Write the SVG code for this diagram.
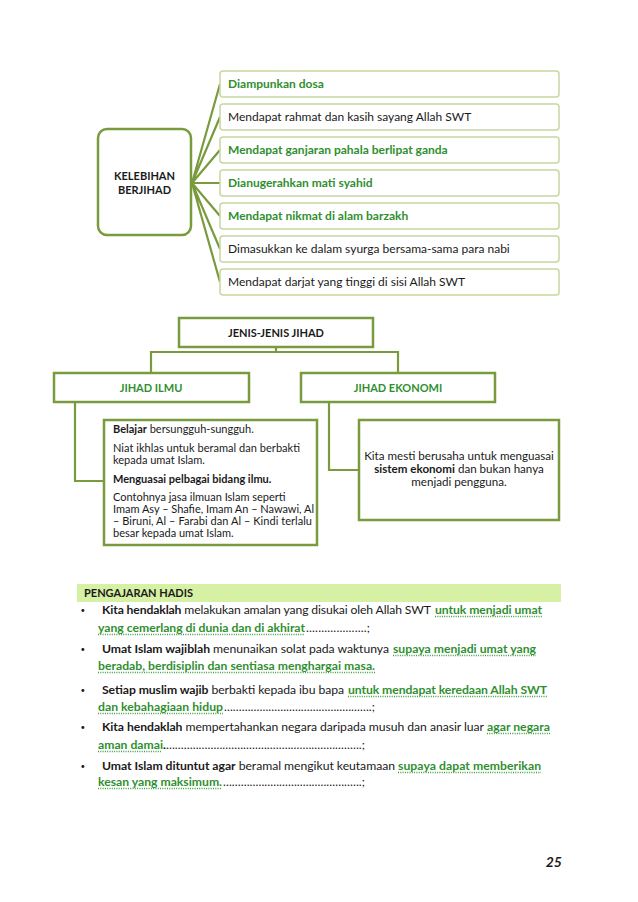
<svg xmlns="http://www.w3.org/2000/svg" width="638" height="902" viewBox="0 0 638 902">
<style>
text{font-family:Lato,"Open Sans","Liberation Sans",sans-serif;fill:#1a1a1a}
.b{font-weight:bold}
.g{fill:#2f8f2f}
.item{fill:#fff;stroke:#c6d8a0;stroke-width:1.5}
.main{fill:#fff;stroke:#7a9a3e;stroke-width:2.5}
.conn{fill:none;stroke:#7a9a3e;stroke-width:2.2}
.t12{font-size:12px}
.t11{font-size:11px}
.t10{font-size:11px}
.te{font-size:11.6px}
.h{font-size:12.2px}
.bul{font-size:8px}
.ul{fill:none;stroke:#3f9f3f;stroke-width:1.3;stroke-dasharray:1 1.3}
</style>

<g id="connectors">
  <path class="conn" d="M192,183 L220,84 M192,183 L220,117 M192,183 L220,150 M192,183 L220,183 M192,183 L220,216 M192,183 L220,249 M192,183 L220,282"/>
  <path class="conn" d="M276,347 V352 M151,373 V352 H398 V373"/>
  <path class="conn" d="M75,402 V481 H104"/>
  <path class="conn" d="M329,402 V470 H359"/>
</g>

<g id="kelebihan">
  <rect class="main" x="98" y="129" width="93" height="106" rx="9"/>
  <text class="t11 b" x="144.5" y="180" text-anchor="middle">KELEBIHAN</text>
  <text class="t11 b" x="144.5" y="194" text-anchor="middle">BERJIHAD</text>
</g>

<g id="k1"><rect class="item" x="220" y="71" width="339" height="26" rx="3"/><text class="t12 b g" x="228" y="88">Diampunkan dosa</text></g>
<g id="k2"><rect class="item" x="220" y="104" width="339" height="26" rx="3"/><text class="t12" x="228" y="121">Mendapat rahmat dan kasih sayang Allah SWT</text></g>
<g id="k3"><rect class="item" x="220" y="137" width="339" height="26" rx="3"/><text class="t12 b g" x="228" y="154">Mendapat ganjaran pahala berlipat ganda</text></g>
<g id="k4"><rect class="item" x="220" y="170" width="339" height="26" rx="3"/><text class="t12 b g" x="228" y="187">Dianugerahkan mati syahid</text></g>
<g id="k5"><rect class="item" x="220" y="203" width="339" height="26" rx="3"/><text class="t12 b g" x="228" y="220">Mendapat nikmat di alam barzakh</text></g>
<g id="k6"><rect class="item" x="220" y="236" width="339" height="26" rx="3"/><text class="t12" x="228" y="253">Dimasukkan ke dalam syurga bersama-sama para nabi</text></g>
<g id="k7"><rect class="item" x="220" y="269" width="339" height="26" rx="3"/><text class="t12" x="228" y="286">Mendapat darjat yang tinggi di sisi Allah SWT</text></g>

<g id="jenis">
  <rect class="main" x="179" y="318" width="194" height="29"/>
  <text class="t11 b" x="276" y="337" text-anchor="middle">JENIS-JENIS JIHAD</text>
</g>
<g id="ilmu">
  <rect class="main" x="54" y="373" width="195" height="29"/>
  <text class="t11 b g" x="151" y="392" text-anchor="middle">JIHAD ILMU</text>
</g>
<g id="ekonomi">
  <rect class="main" x="301" y="373" width="194" height="29"/>
  <text class="t11 b g" x="398" y="392" text-anchor="middle">JIHAD EKONOMI</text>
</g>
<g id="ilmu-detail">
  <rect class="main" x="104" y="420" width="213" height="125"/>
  <text class="t10" x="113" y="433"><tspan class="b">Belajar</tspan> bersungguh-sungguh.</text>
  <text class="t10" x="113" y="452" textLength="187">Niat ikhlas untuk beramal dan berbakti</text>
  <text class="t10" x="113" y="464">kepada umat Islam.</text>
  <text class="t10 b" x="113" y="483">Menguasai pelbagai bidang ilmu.</text>
  <text class="t10" x="113" y="501">Contohnya jasa ilmuan Islam seperti</text>
  <text class="t10" x="113" y="513" textLength="201">Imam Asy – Shafie, Imam An – Nawawi, Al</text>
  <text class="t10" x="113" y="525" textLength="199">– Biruni, Al – Farabi dan Al – Kindi  terlalu</text>
  <text class="t10" x="113" y="537">besar kepada umat Islam.</text>
</g>
<g id="ekonomi-detail">
  <rect class="main" x="359" y="420" width="200" height="100"/>
  <text class="te" x="459" y="460" text-anchor="middle">Kita mesti berusaha untuk menguasai</text>
  <text class="te" x="459" y="473" text-anchor="middle"><tspan class="b">sistem ekonomi</tspan> dan bukan hanya</text>
  <text class="te" x="459" y="486" text-anchor="middle">menjadi pengguna.</text>
</g>

<g id="hadis">
  <rect x="77" y="584" width="484" height="18" fill="#d6f0a4"/>
  <text class="t11 b" x="84" y="597">PENGAJARAN HADIS</text>
  <g class="h">
    <text class="bul" x="80.5" y="613">•</text>
    <text x="102" y="614" textLength="329"><tspan class="b">Kita hendaklah</tspan> melakukan amalan yang disukai oleh Allah SWT</text>
    <text class="b g" x="435" y="614" textLength="107">untuk menjadi umat</text>
    <text class="b g" x="98" y="632" textLength="207">yang cemerlang di dunia dan di akhirat</text>
    <text x="306" y="632" textLength="64">....................;</text>
    <path class="ul" d="M435,616.5 H542 M98,634.5 H305"/>

    <text class="bul" x="80.5" y="652">•</text>
    <text x="102" y="653" textLength="287"><tspan class="b">Umat Islam wajiblah</tspan> menunaikan solat pada waktunya</text>
    <text class="b g" x="393" y="653" textLength="143">supaya menjadi umat yang</text>
    <text class="b g" x="98" y="670" textLength="277">beradab, berdisiplin dan sentiasa menghargai masa.</text>
    <path class="ul" d="M393,655.5 H536 M98,672.5 H375"/>

    <text class="bul" x="80.5" y="693">•</text>
    <text x="102" y="694" textLength="242"><tspan class="b">Setiap muslim wajib</tspan> berbakti kepada ibu bapa</text>
    <text class="b g" x="348" y="694" textLength="199">untuk mendapat keredaan Allah SWT</text>
    <text class="b g" x="98" y="711" textLength="125">dan kebahagiaan hidup</text>
    <text x="224" y="711" textLength="151">..................................................;</text>
    <path class="ul" d="M348,696.5 H547 M98,713.5 H223"/>

    <text class="bul" x="80.5" y="730">•</text>
    <text x="102" y="731" textLength="382"><tspan class="b">Kita hendaklah</tspan> mempertahankan negara daripada musuh dan anasir luar</text>
    <text class="b g" x="487" y="731" textLength="63">agar negara</text>
    <text class="b g" x="98" y="749">aman damai.</text>
    <text x="163" y="749" textLength="202">...................................................................;</text>
    <path class="ul" d="M487,733.5 H550 M98,751.5 H161"/>

    <text class="bul" x="80.5" y="769">•</text>
    <text x="102" y="770" textLength="293"><tspan class="b">Umat Islam dituntut agar</tspan> beramal mengikut keutamaan</text>
    <text class="b g" x="398" y="770" textLength="143">supaya dapat memberikan</text>
    <text class="b g" x="98" y="786" textLength="124">kesan yang maksimum.</text>
    <text x="223" y="786" textLength="142">...............................................;</text>
    <path class="ul" d="M398,772.5 H541 M98,788.5 H222"/>
  </g>
</g>

<text x="562" y="867" text-anchor="end" font-size="14" font-weight="bold" font-style="italic">25</text>
</svg>
